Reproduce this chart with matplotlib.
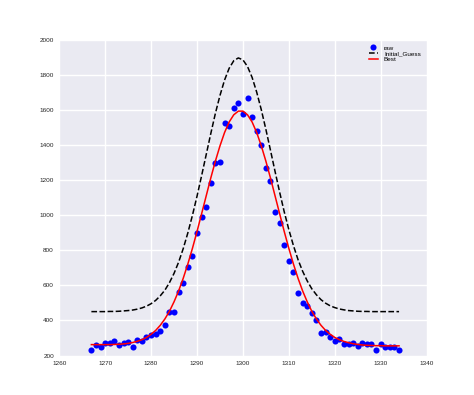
import numpy as np
import matplotlib
matplotlib.use("Agg")
import matplotlib.pyplot as plt

plt.rcParams['font.family'] = ['Liberation Sans', 'DejaVu Sans']

# measured spectrum
x_raw = list(range(1267, 1335))
y_raw = [234, 261, 251, 270, 270, 280, 257, 274, 276, 251,
         286, 284, 303, 314, 324, 337, 375, 447, 447, 563,
         613, 704, 767, 900, 988, 1044, 1185, 1299, 1300, 1524,
         1506, 1608, 1641, 1575, 1664, 1561, 1480, 1400, 1270, 1196,
         1015, 952, 832, 741, 677, 556, 500, 480, 440, 400,
         330, 333, 305, 280, 295, 263, 263, 274, 255, 270,
         267, 264, 234, 264, 251, 247, 247, 232]

# starting guess curve
y_guess = [450, 450, 450, 450, 451, 451, 452, 454, 456, 459,
           464, 471, 481, 495, 514, 540, 572, 615, 668, 732,
           809, 898, 998, 1107, 1224, 1344, 1464, 1579, 1681, 1769,
           1836, 1879, 1895, 1884, 1846, 1784, 1700, 1600, 1488, 1369,
           1248, 1130, 1018, 917, 826, 746, 680, 625, 580, 546,
           518, 498, 483, 473, 465, 460, 456, 454, 452, 451,
           451, 450, 450, 450, 450, 450, 450, 450]

# fitted curve
y_best = [262, 262, 262, 262, 262, 263, 264, 266, 269, 274,
          281, 290, 303, 321, 343, 372, 408, 452, 506, 568,
          640, 721, 810, 906, 1007, 1109, 1211, 1307, 1394, 1470,
          1530, 1571, 1592, 1592, 1571, 1530, 1470, 1394, 1307, 1211,
          1109, 1007, 906, 810, 721, 640, 568, 506, 452, 408,
          372, 343, 321, 303, 290, 280, 273, 267, 263, 260,
          258, 257, 256, 256, 255, 255, 255, 255]

fig = plt.figure(figsize=(4.74, 3.95), dpi=100)
ax = fig.add_subplot(111)
fig.subplots_adjust(left=0.125, right=0.9, bottom=0.1, top=0.9)
ax.set_facecolor('#EAEAF2')
for s in ax.spines.values():
    s.set_visible(False)
ax.grid(True, color='white', linewidth=1.0)
ax.set_axisbelow(True)

ax.plot(x_raw, y_raw, 'o', color='blue', markersize=4.4, markeredgewidth=0, label='raw')
ax.plot(x_raw, y_guess, '--', color='black', linewidth=1.1, label='Initial_Guess')
ax.plot(x_raw, y_best, '-', color='red', linewidth=1.1, label='Best')

ax.set_xlim(1260, 1340)
ax.set_ylim(200, 2000)
ax.set_xticks(np.arange(1260, 1341, 10))
ax.set_yticks(np.arange(200, 2001, 200))
ax.tick_params(length=0, labelsize=4.6, colors='#262626', pad=3.8)

ax.legend(loc='upper right', numpoints=1, frameon=False, fontsize=4.6,
          handlelength=1.5, labelspacing=0.05, handletextpad=0.9)

fig.savefig('out.png', dpi=100)
